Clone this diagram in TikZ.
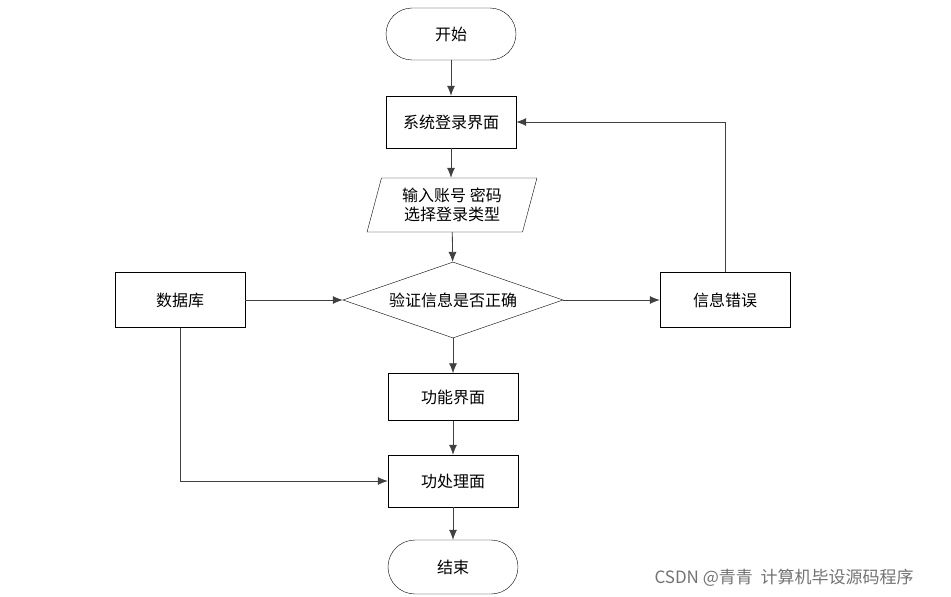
\documentclass[tikz,border=0pt]{standalone}
\usepackage{fontspec}
\setmainfont{Noto Sans CJK SC}
\usetikzlibrary{shapes.geometric,arrows.meta}
\begin{document}
\begin{tikzpicture}[x=1pt,y=-1pt,
        font=\fontsize{16}{19}\selectfont,
        box/.style={draw, fill=white, minimum width=130pt, minimum height=52pt},
        term/.style={box, rounded corners=26pt},
        io/.style={draw, trapezium, trapezium left angle=75, trapezium right angle=105, minimum width=170pt, minimum height=50pt, align=center},
        test/.style={draw, diamond, aspect=2.9, minimum width=220pt, minimum height=76pt, inner sep=1pt},
        line/.style={draw, thick, black!75, -{Latex[length=10pt,width=8pt]}}
    ]
        \useasboundingbox (0,0) rectangle (951,597);
        % Nodes
        \node[term] (start) at (451,34) {开始};
        \node[box] (login) at (451,122) {系统登录界面};
        \node[io] (input) at (452,205) {输入账号 密码\\选择登录类型};
        \node[test] (check) at (453,300) {验证信息是否正确};
        \node[box, minimum height=55pt] (db) at (180,300) {数据库};
        \node[box, minimum height=55pt] (err) at (725,300) {信息错误};
        \node[box, minimum height=47pt] (func) at (453,397) {功能界面};
        \node[box] (proc) at (453,481) {功处理面};
        \node[term, minimum height=54pt, rounded corners=27pt] (end) at (453,567) {结束};
        \node[text=black!55, font=\fontsize{17}{19}\selectfont] (mark) at (784,578) {CSDN @青青\ \ 计算机毕设源码程序};

        % Edges
        \draw[line] (start) -- (login);
        \draw[line] (login) -- (login|-input.north);
        \draw[line] (input) -- (check);
        \draw[line] (db) -- (check);
        \draw[line] (check) -- (err);
        \draw[line] (err) |- (login);
        \draw[line] (check) -- (func);
        \draw[line] (func) -- (proc);
        \draw[line] (db) |- (proc);
        \draw[line] (proc) -- (end);
    \end{tikzpicture}
\end{document}
